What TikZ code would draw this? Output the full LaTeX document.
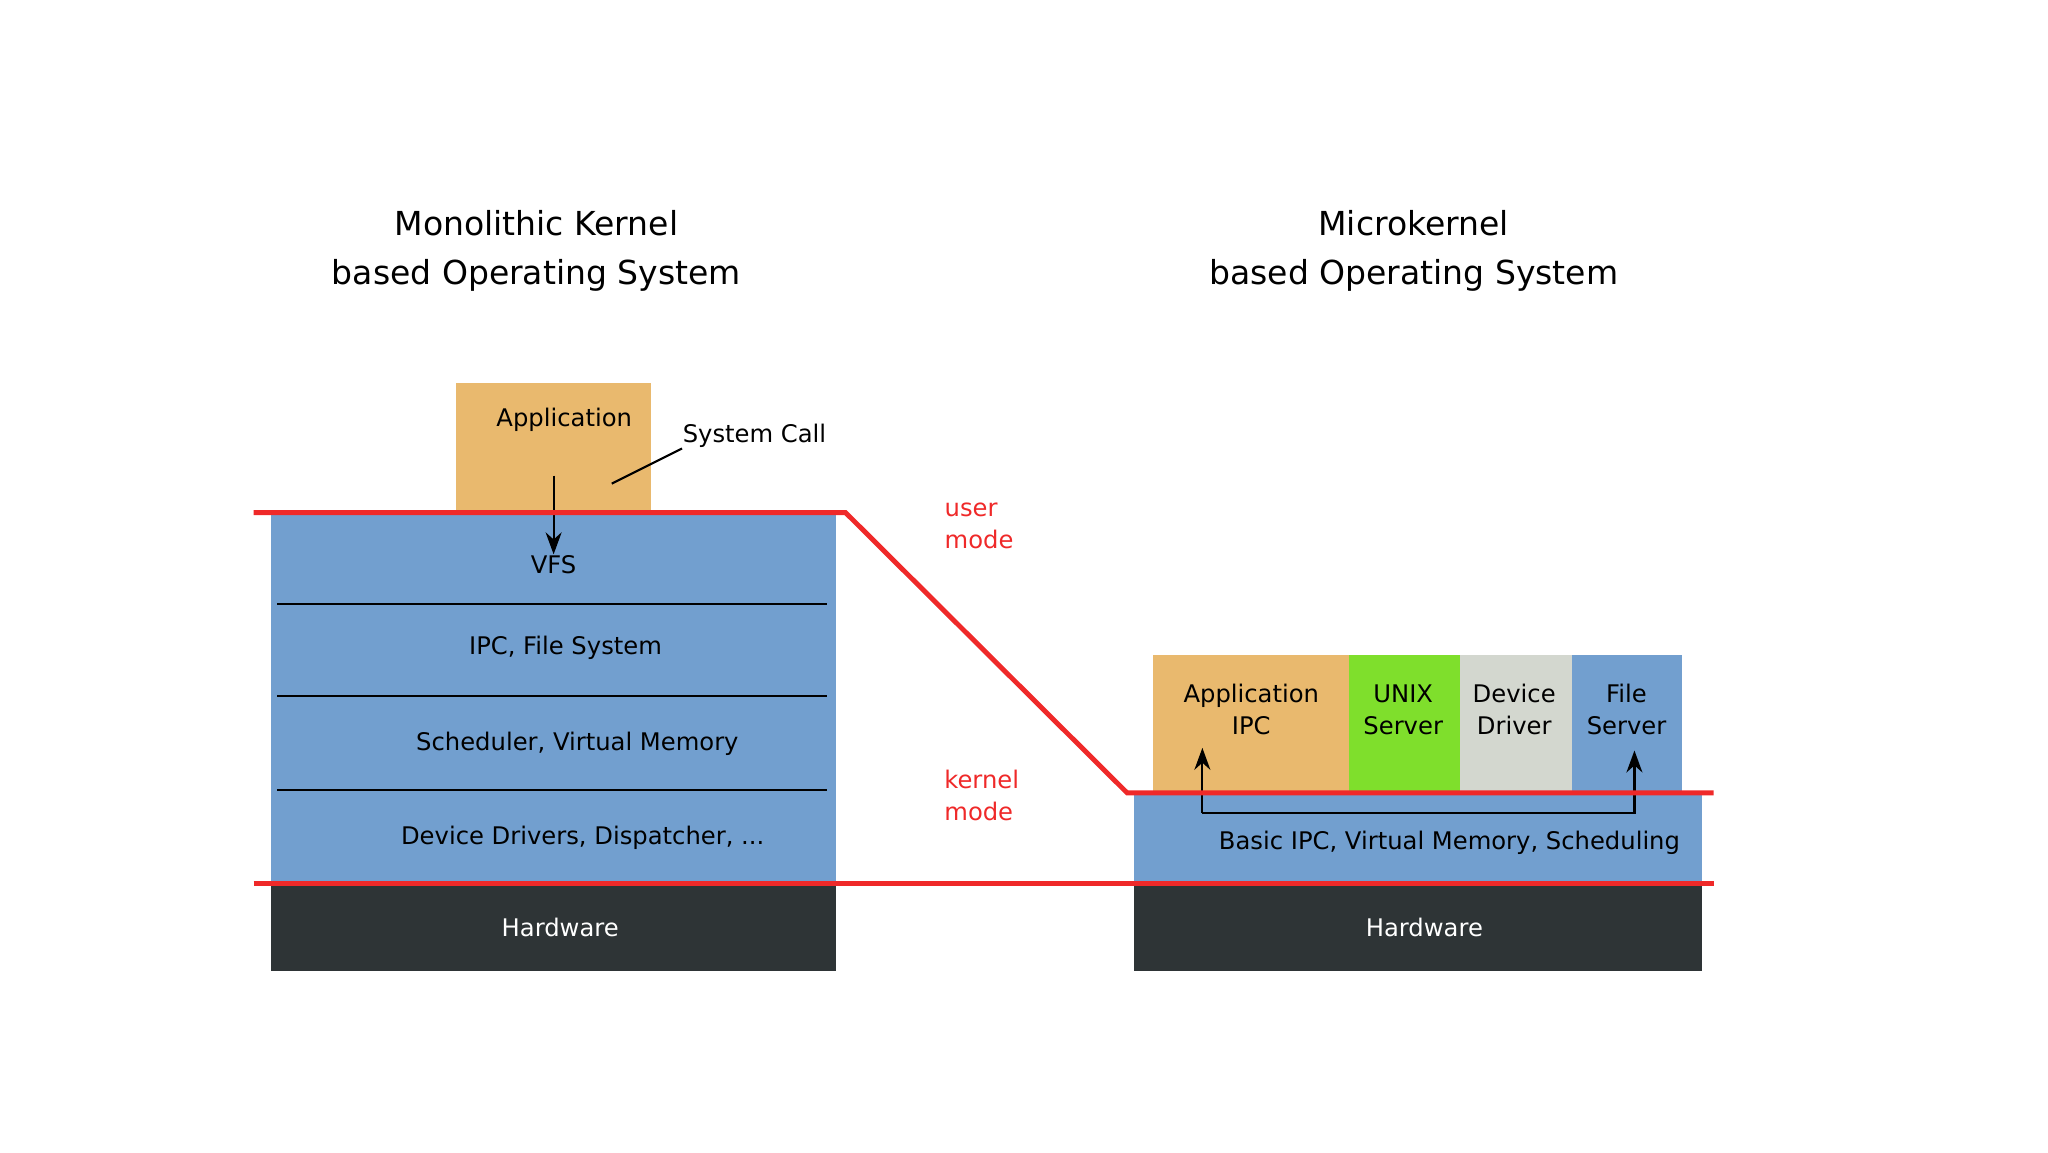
\documentclass[tikz,border=0pt]{standalone}
\usepackage{fontspec}
\setmainfont{DejaVu Sans}
\usetikzlibrary{positioning,arrows.meta}
\definecolor{appOrange}{HTML}{E9B96E}
\definecolor{layerBlue}{HTML}{729FCF}
\definecolor{hwDark}{HTML}{2E3436}
\definecolor{unixGreen}{HTML}{7FDF2C}
\definecolor{drvGray}{HTML}{D3D7CF}
\definecolor{modeRed}{HTML}{EF2929}

\begin{document}
\begin{tikzpicture}[
  x=0.013213cm, y=-0.013213cm,
  layer/.style={
    rectangle, inner sep=0pt, align=center,
    font=\fontsize{6.9}{9}\selectfont
  },
  title/.style={align=center, font=\fontsize{9.4}{13.9}\selectfont},
  modetxt/.style={align=left, text=modeRed, font=\fontsize{6.9}{9}\selectfont},
  divider/.style={line width=0.6pt},
  border/.style={modeRed, line width=1.4pt},
  arr/.style={-{Stealth[length=2.2mm, width=1.6mm]}, line width=0.6pt}
]
\useasboundingbox (0,0) rectangle (1550,872);

% Titles
\node[title] (tmono) at (406,190) {Monolithic Kernel\\based Operating System};
\node[title] (tmicro) at (1070,190) {Microkernel\\based Operating System};

% Monolithic side
\fill[appOrange] (345,290) rectangle (493,388);
\node[layer] (app) at (427,318) {Application};
\fill[layerBlue] (205,388) rectangle (633,668);
\node[layer] (vfs) at (419,427) {VFS};
\node[layer] (ipcfs) at (428,490) {IPC, File System};
\node[layer] (sched) at (437,563) {Scheduler, Virtual Memory};
\node[layer] (drv) at (441,634) {Device Drivers, Dispatcher, ...};
\draw[divider] (210,457) -- (626,457);
\draw[divider] (210,527) -- (626,527);
\draw[divider] (210,598) -- (626,598);
\fill[hwDark] (205,670) rectangle (633,735);
\node[layer, text=white] (hwl) at (424,702) {Hardware};

\coordinate (callTop) at (419,360);
\draw[arr] (callTop) -- (vfs.north -| callTop);
\node[layer] (syscall) at (571,330) {System Call};
\coordinate (callTip) at (463,366);
\draw[line width=0.6pt] (callTip) -- (syscall.south west);

% Microkernel side
\fill[layerBlue] (858,600) rectangle (1288,668);
\node[layer] (basic) at (1097,638) {Basic IPC, Virtual Memory, Scheduling};
\fill[appOrange] (873,496) rectangle (1021,600);
\fill[unixGreen] (1021,496) rectangle (1105,600);
\fill[drvGray] (1105,496) rectangle (1190,600);
\fill[layerBlue] (1190,496) rectangle (1273,600);
\node[layer] (appipc) at (947,537) {Application\\IPC};
\node[layer] (unix) at (1062,537) {UNIX\\Server};
\node[layer] (ddrv) at (1146,537) {Device\\Driver};
\node[layer] (fsrv) at (1231,537) {File\\Server};
\fill[hwDark] (858,670) rectangle (1288,735);
\node[layer, text=white] (hwr) at (1078,702) {Hardware};

\coordinate (ipcL) at (910,615);
\coordinate (ipcR) at (1237,615);
\draw[arr] (ipcL) -- (ipcR) -- (ipcR |- 0,568);
\draw[arr] (ipcL) -- (ipcL |- 0,566);

% Mode borders
\draw[border] (192,388) -- (640,388) -- (853,600) -- (1297,600);
\draw[border] (192,669) -- (1297,669);
\node[modetxt] (umode) at (741,398) {user\\mode};
\node[modetxt] (kmode) at (743,602) {kernel\\mode};
\end{tikzpicture}
\end{document}
